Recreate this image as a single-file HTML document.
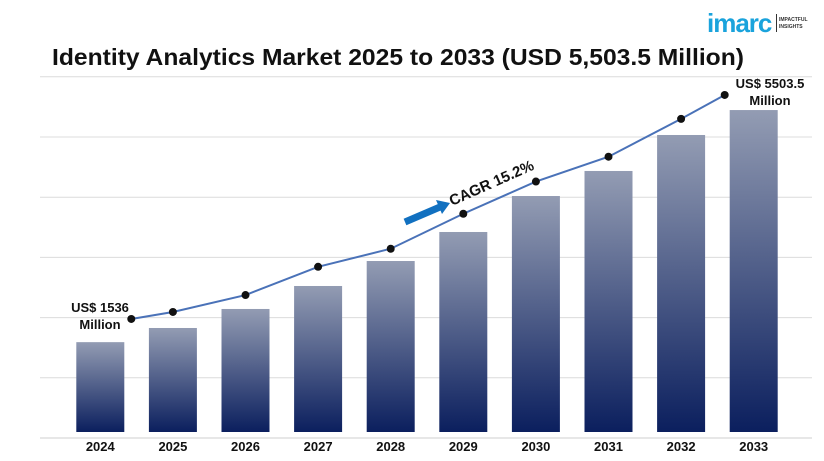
<!DOCTYPE html>
<html><head><meta charset="utf-8"><style>
body{margin:0;background:#fff;}
svg{display:block;font-family:"Liberation Sans",sans-serif;}
</style></head><body>
<svg id="chart" width="824" height="461">
<defs>
<linearGradient id="bg" x1="0" y1="0" x2="0" y2="1">
<stop offset="0" stop-color="#939cb3"/><stop offset="1" stop-color="#0b1f5e"/>
</linearGradient>
</defs>
<text x="52" y="65" font-size="23" font-weight="bold" fill="#111" textLength="692" lengthAdjust="spacingAndGlyphs">Identity Analytics Market 2025 to 2033 (USD 5,503.5 Million)</text>
<g>
<text x="707" y="32" font-size="26" font-weight="bold" fill="#1aa3dc" letter-spacing="-1">imarc</text>
<rect x="776" y="14" width="1" height="18" fill="#333"/>
<text x="779" y="21" font-size="5" font-weight="bold" fill="#333">IMPACTFUL</text>
<text x="779" y="28" font-size="5" font-weight="bold" fill="#333">INSIGHTS</text>
</g>
<g id="grid"></g><g id="bars"></g><g id="line"></g><g id="labels"></g>
<g>
<line x1="405" y1="222" x2="440" y2="207" stroke="#1170c0" stroke-width="7"/>
<polygon points="450,203 436,200 442,214" fill="#1170c0"/>
<text x="452" y="206" font-size="15" font-weight="bold" fill="#111" transform="rotate(-24 452 206)">CAGR 15.2%</text>
</g>
<text x="100" y="312" text-anchor="middle" font-size="13" font-weight="bold" fill="#111"><tspan x="100">US$ 1536</tspan><tspan x="100" dy="17">Million</tspan></text>
<text x="770" y="88" text-anchor="middle" font-size="13" font-weight="bold" fill="#111"><tspan x="770">US$ 5503.5</tspan><tspan x="770" dy="17">Million</tspan></text>
</svg>
<script>
const categories=["2024","2025","2026","2027","2028","2029","2030","2031","2032","2033"];
const values=[1536,1778,2103,2496,2923,3419,4034,4462,5077,5503.5];
const lineValues=[1536,1660,1960,2460,2780,3400,3970,4410,5080,5503.5];
const NS="http://www.w3.org/2000/svg";
const x0=64,x1=790,bw=48,base=432;
const band=(x1-x0)/categories.length;
const xc=i=>x0+band*(i+0.5);
const yBar=v=>base-v*0.0585;
const yLine=v=>405.7-v*0.05646;
function mk(t,a,p){const e=document.createElementNS(NS,t);for(const k in a)e.setAttribute(k,a[k]);p.appendChild(e);return e;}
const grid=document.getElementById('grid');
for(let k=0;k<7;k++){const y=438-k*60.2;
const g=mk('line',{x1:40,x2:812,y1:y,y2:y,stroke:k==0?'#cfcfcf':'#dcdcdc','stroke-width':1},grid);

}
const bars=document.getElementById('bars'),labels=document.getElementById('labels'),line=document.getElementById('line');
const pts=[];
values.forEach((v,i)=>{
const r=mk('rect',{x:xc(i)-bw/2,y:yBar(v),width:bw,height:base-yBar(v),fill:'url(#bg)'},bars);


const t=mk('text',{x:xc(i),y:451,'text-anchor':'middle','font-size':13,'font-weight':'bold',fill:'#111'},labels);
t.textContent=categories[i];


let px=xc(i);if(i==0)px=xc(i)+31;if(i==categories.length-1)px=xc(i)-29;
pts.push([px,yLine(lineValues[i])]);
});
const pl=mk('polyline',{points:pts.map(p=>p.join(',')).join(' '),fill:'none',stroke:'#4a72b8','stroke-width':2},line);


pts.forEach(p=>{const c=mk('circle',{cx:p[0],cy:p[1],r:4,fill:'#111'},line);

});
</script>
</body></html>
